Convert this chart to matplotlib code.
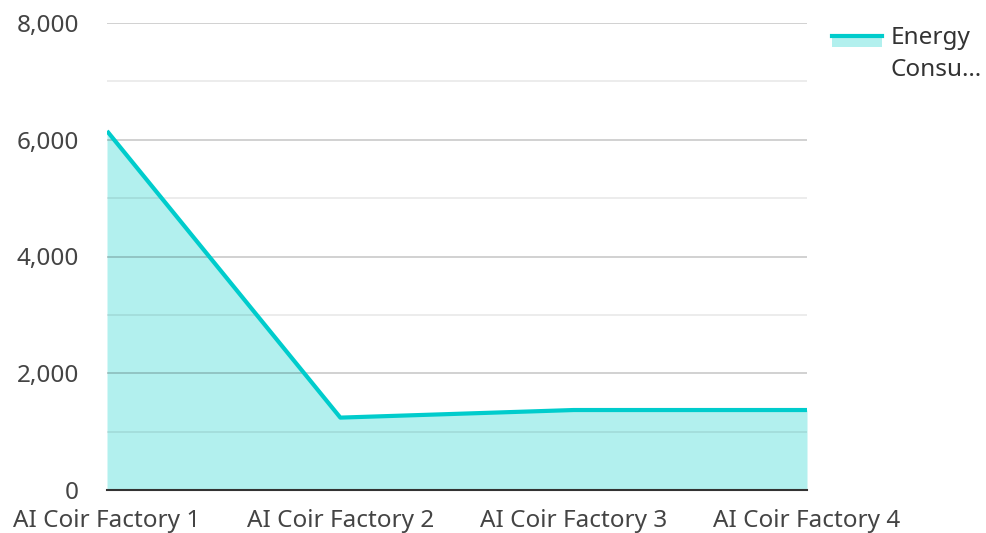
import matplotlib
matplotlib.use("Agg")
import matplotlib.pyplot as plt
from matplotlib.patches import Rectangle
from matplotlib.lines import Line2D

categories = ["AI Coir Factory 1", "AI Coir Factory 2", "AI Coir Factory 3", "AI Coir Factory 4"]
energy = [6150, 1240, 1370, 1370]
yticks = [0, 2000, 4000, 6000, 8000]
ytick_labels = ["0", "2,000", "4,000", "6,000", "8,000"]
minor_ticks = [1000, 3000, 5000, 7000]
series_label = "Energy\nConsu…"

LINE = "#00cccc"
FILL = "#b2f0ee"
FS = 17.5

plt.rcParams['font.family'] = ['Noto Sans', 'DejaVu Sans']

W, H = 986, 533
fig = plt.figure(figsize=(W/100, H/100), dpi=100)
ax = fig.add_axes([107/W, 1-490/H, 700/W, 467/H])

x = list(range(len(categories)))
ax.fill_between(x, 0, energy, color=FILL, lw=0, zorder=1)
ax.plot(x, energy, color=LINE, lw=3, zorder=3, solid_capstyle='butt')

ax.set_xlim(0, len(categories)-1)
ax.set_ylim(0, 8000)
for v in yticks[1:]:
    ax.axhline(v, color="black", alpha=0.21, lw=1.2, zorder=2)
for v in minor_ticks:
    ax.axhline(v, color="black", alpha=0.09, lw=1.2, zorder=2)
ax.set_yticks(yticks)
ax.set_yticklabels(ytick_labels)
ax.set_xticks(x)
ax.set_xticklabels(categories)
ax.tick_params(axis='both', length=0, labelsize=FS, labelcolor="#444444")
ax.tick_params(axis='y', pad=20)
ax.tick_params(axis='x', pad=14)
for s in ["top", "right", "left"]:
    ax.spines[s].set_visible(False)
ax.spines["bottom"].set_color("#333333")
ax.spines["bottom"].set_linewidth(1.5)
ax.spines["bottom"].set_zorder(4)

# legend drawn in figure pixel coordinates
def fx(px):
    return px / W
def fy(py):
    return 1 - py / H

fig.add_artist(Rectangle((fx(832), fy(47)), 50/W, 12/H, transform=fig.transFigure,
                         facecolor=FILL, edgecolor='none'))
fig.add_artist(Line2D([fx(832), fx(882)], [fy(36), fy(36)], transform=fig.transFigure,
                      color=LINE, lw=3))
fig.text(fx(891), fy(26), series_label, fontsize=FS, color="#333333",
         va='top', ha='left', linespacing=1.45)

fig.savefig("out.png", dpi=100, facecolor="white")
